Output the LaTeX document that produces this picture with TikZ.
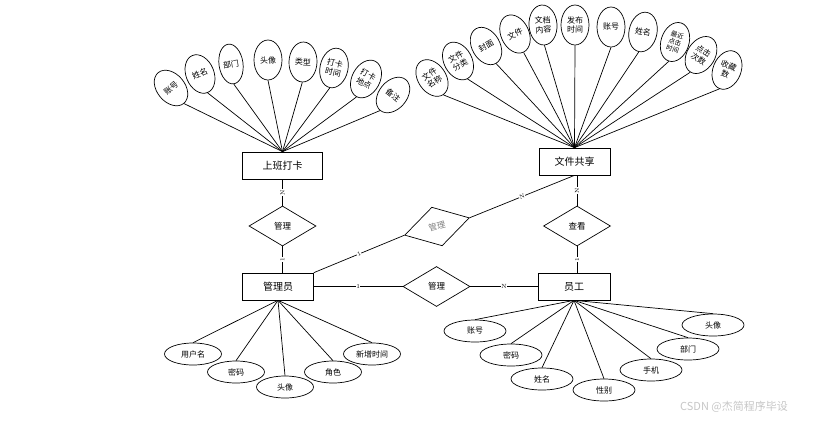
\documentclass[tikz,border=0pt]{standalone}
\usepackage{fontspec}
\newfontfamily\cjk{Noto Sans CJK SC}
\usetikzlibrary{shapes.geometric}
\begin{document}
\begin{tikzpicture}[x=1pt,y=-1pt,line width=0.7pt,
  ent/.style={draw, rectangle, minimum height=27, inner sep=0, font=\cjk\fontsize{10}{12}\selectfont},
  rel/.style={draw, diamond, minimum width=67, minimum height=40, inner sep=0, font=\cjk\fontsize{8.5}{10}\selectfont},
  atop/.style={draw, ellipse, minimum width=28, minimum height=40, inner sep=0, align=center, font=\cjk\fontsize{8}{9.5}\selectfont},
  abot/.style={draw, ellipse, minimum width=57, minimum height=22, inner sep=0, font=\cjk\fontsize{8}{9}\selectfont},
  lbl/.style={fill=white, inner sep=0.4pt, font=\fontsize{6}{6}\selectfont}]
\path[use as bounding box] (0,0) rectangle (819,424);

% entities
\node[ent, minimum width=80] (sbdk) at (282.5,165.5) {上班打卡};
\node[ent, minimum width=71] (wjgx) at (574.5,161.5) {文件共享};
\node[ent, minimum width=71] (gly) at (278,286.5) {管理员};
\node[ent, minimum width=72] (yg) at (574,286.5) {员工};

% relations
\node[rel] (r1) at (282.5,226) {管理};
\node[rel, rotate=15, text=gray] (r2) at (437,226.5) {管理};
\node[rel] (r3) at (436.5,286.5) {管理};
\node[rel] (r4) at (577,226) {查看};

% attributes of 上班打卡
\node[atop, rotate=40] (a1) at (171,88) {账号};
\node[atop, rotate=22] (a2) at (200,74) {姓名};
\node[atop, rotate=8, minimum width=24] (a3) at (231,64) {部门};
\node[atop] (a4) at (268,60) {头像};
\node[atop, rotate=-2] (a5) at (303,62) {类型};
\node[atop, rotate=-12] (a6) at (334,68) {打卡\\时间};
\node[atop, rotate=-28] (a7) at (366,79) {打卡\\地点};
\node[atop, rotate=-40] (a8) at (393,95) {备注};

% attributes of 文件共享
\node[atop, rotate=34] (b1) at (432,78) {文件\\名称};
\node[atop, rotate=28] (b2) at (458,61) {文件\\分类};
\node[atop, rotate=30] (b3) at (486,46) {封面};
\node[atop, rotate=25] (b4) at (515,34) {文件};
\node[atop, rotate=4] (b5) at (543,25) {文档\\内容};
\node[atop] (b6) at (575,25) {发布\\时间};
\node[atop] (b7) at (611,27) {账号};
\node[atop, rotate=-12] (b8) at (643,32) {姓名};
\node[atop, rotate=-18, font=\cjk\fontsize{6.5}{7.5}\selectfont] (b9) at (675,42) {最近\\点击\\时间};
\node[atop, rotate=-32] (b10) at (701,55) {点击\\次数};
\node[atop, rotate=-22] (b11) at (727,70) {收藏\\数};

% attributes of 管理员
\node[abot] (c1) at (193,354) {用户名};
\node[abot] (c2) at (236,372) {密码};
\node[abot] (c3) at (285,387) {头像};
\node[abot] (c4) at (333,372) {角色};
\node[abot] (c5) at (372,354) {新增时间};

% attributes of 员工
\node[abot, minimum width=62] (d1) at (475,331) {账号};
\node[abot, minimum width=62] (d2) at (511,355) {密码};
\node[abot, minimum width=62] (d3) at (542,379) {姓名};
\node[abot, minimum width=62] (d4) at (604,390) {性别};
\node[abot, minimum width=62] (d5) at (651,370) {手机};
\node[abot, minimum width=62] (d6) at (688,349) {部门};
\node[abot, minimum width=62] (d7) at (713,325) {头像};

% fans
\foreach \n in {a1,a2,a3,a4,a5,a6,a7,a8} \draw (sbdk.north) -- (\n.south);
\foreach \n in {b1,b2,b3,b4,b5,b6,b7,b8,b9,b10,b11} \draw (wjgx.north) -- (\n.south);
\foreach \n in {c1,c2,c3,c4,c5} \draw (gly.south) -- (\n.north);
\foreach \n in {d1,d2,d3,d4,d5,d6,d7} \draw (yg.south) -- (\n.north);

% relationship connectors
\draw (sbdk.south) -- node[lbl, rotate=90] {N} (r1.north);
\draw (r1.south) -- node[lbl, rotate=90] {1} (r1.south |- gly.north);
\draw (gly.north east) -- node[lbl, sloped] {1} (r2.west);
\draw (r2.east) -- node[lbl, sloped] {N} (wjgx.south);
\draw (gly.east) -- node[lbl] {1} (r3.west);
\draw (r3.east) -- node[lbl] {N} (yg.west);
\draw (r4.north |- wjgx.south) -- node[lbl, rotate=90] {N} (r4.north);
\draw (r4.south) -- node[lbl, rotate=90] {1} (r4.south |- yg.north);

% watermark
\node[font=\cjk\fontsize{11}{11}\selectfont, text=gray!45] (wm) at (734,407) {CSDN @杰简程序毕设};
\end{tikzpicture}
\end{document}
